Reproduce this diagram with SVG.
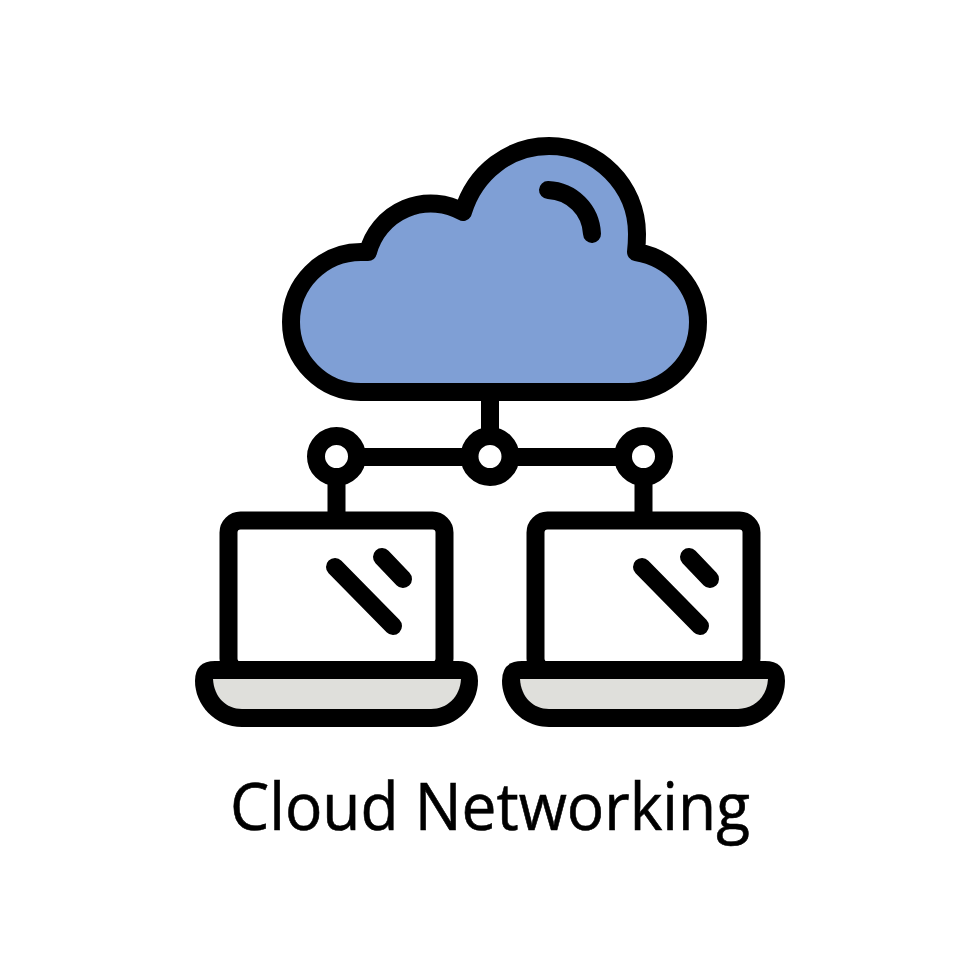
<svg xmlns="http://www.w3.org/2000/svg" width="980" height="980" viewBox="0 0 980 980">
<style>
.o{stroke:#000;stroke-width:18;stroke-linecap:round;stroke-linejoin:round}
.l{fill:none}
.t{font-family:"Open Sans","Noto Sans",sans-serif;font-size:65px;fill:#000;stroke:#000;stroke-width:.6}
</style>
<defs>
<g id="laptop">
<rect class="o" x="228.500" y="520.500" width="216" height="150" rx="12" fill="#fff"/>
<path d="M215 661H458Q478 661 478 681C478 705 458 727 431 727H242C215 727 195 705 195 681Q195 661 215 661Z" fill="#000"/>
<path d="M213 679H461C460 697 447 709 431 709H242C226 709 214 697 213 679Z" fill="#dfdfdb"/>
<path class="o l" d="M335 567L393 626M382 557L403 579"/>
</g>
</defs>
<rect width="980" height="980" fill="#fff"/>
<g id="connectors">
<path d="M490 392V457M337 457H643M336.500 457V521M643.500 457V521" fill="none" stroke="#000" stroke-width="18"/>
</g>
<g id="cloud">
<path class="o" d="M368 252A65 65 0 0 1 463 212C475 172 510 146 549 146C598 146 637 186 637 234Q637 243 636 252C672 258 698 288 698 322C698 362 666 392 628 392H361C322 392 291 360 291 322C291 284 322 252 361 252Z" fill="#7f9fd5"/>
<path class="o l" d="M548 190C572 191 591 210 592 234"/>
</g>
<g id="hub-left"><circle class="o" cx="336.500" cy="456.500" r="20.500" fill="#fff"/></g>
<g id="hub-center"><circle class="o" cx="490" cy="456.500" r="20.500" fill="#fff"/></g>
<g id="hub-right"><circle class="o" cx="643.500" cy="456.500" r="20.500" fill="#fff"/></g>
<g id="laptop-left"><use href="#laptop"/></g>
<g id="laptop-right"><use href="#laptop" x="307"/></g>
<text class="t" x="230" y="830" textLength="520" lengthAdjust="spacingAndGlyphs">Cloud Networking</text>
</svg>
